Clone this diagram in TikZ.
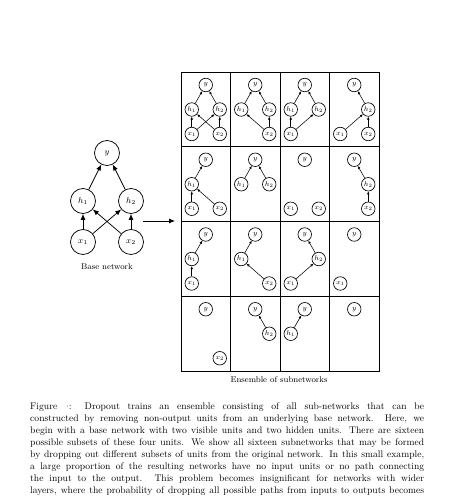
\RequirePackage{fix-cm}
\documentclass[tikz,border=0pt]{standalone}
\usetikzlibrary{arrows.meta}
\tikzset{
  bignode/.style={circle,draw,line width=0.75pt,minimum size=25pt,inner sep=0pt,font=\fontsize{8.5}{9}\selectfont},
  sn/.style={circle,draw,line width=0.65pt,minimum size=13.5pt,inner sep=0pt,font=\fontsize{7}{8}\selectfont},
  bigarr/.style={-{Latex[length=6pt,width=5pt]},line width=0.75pt},
  sarr/.style={-{Latex[length=3pt,width=2.6pt]},line width=0.55pt},
  gridline/.style={line width=0.9pt},
  lbl/.style={font=\fontsize{8.3}{9}\selectfont,inner sep=0pt}
}
\begin{document}
\begin{tikzpicture}[x=1pt,y=-1pt]
\clip (0,0) rectangle (474,498);
\fill[white] (0,0) rectangle (474,498);
% base network
\node[bignode] (by) at (107,153) {$y$};
\node[bignode] (bh1) at (83,201) {$h_1$};
\node[bignode] (bh2) at (131,201) {$h_2$};
\node[bignode] (bx1) at (83,242) {$x_1$};
\node[bignode] (bx2) at (131,242) {$x_2$};
\draw[bigarr] (bx1) -- (bh1);
\draw[bigarr] (bx2) -- (bh2);
\draw[bigarr] (bx1) -- (bh2);
\draw[bigarr] (bx2) -- (bh1);
\draw[bigarr] (bh1) -- (by);
\draw[bigarr] (bh2) -- (by);
\node[lbl] (blabel) at (107,267) {Base network};
\coordinate (as) at (143,221);
\coordinate (ae) at (175,221);
\draw[bigarr] (as) -- (ae);
% grid
\draw[gridline] (181,72) rectangle (379,371);
\foreach \xx in {230.5,280,329.5} \draw[gridline] (\xx,72) -- (\xx,371);
\foreach \yy in {146.75,221.5,296.25} \draw[gridline] (181,\yy) -- (379,\yy);
\node[lbl] (elabel) at (279,380) {Ensemble of subnetworks};
% row 1
\begin{scope}[shift={(205.75,72)}]
\node[sn] (a1y) at (0,13) {$y$};
\node[sn] (a1h1) at (-14,37.5) {$h_1$};
\node[sn] (a1h2) at (14,37.5) {$h_2$};
\node[sn] (a1x1) at (-14,62) {$x_1$};
\node[sn] (a1x2) at (14,62) {$x_2$};
\draw[sarr] (a1x1) -- (a1h1); \draw[sarr] (a1x1) -- (a1h2);
\draw[sarr] (a1x2) -- (a1h1); \draw[sarr] (a1x2) -- (a1h2);
\draw[sarr] (a1h1) -- (a1y); \draw[sarr] (a1h2) -- (a1y);
\end{scope}
\begin{scope}[shift={(255.25,72)}]
\node[sn] (a2y) at (0,13) {$y$};
\node[sn] (a2h1) at (-14,37.5) {$h_1$};
\node[sn] (a2h2) at (14,37.5) {$h_2$};
\node[sn] (a2x2) at (14,62) {$x_2$};
\draw[sarr] (a2x2) -- (a2h1); \draw[sarr] (a2x2) -- (a2h2);
\draw[sarr] (a2h1) -- (a2y); \draw[sarr] (a2h2) -- (a2y);
\end{scope}
\begin{scope}[shift={(304.75,72)}]
\node[sn] (a3y) at (0,13) {$y$};
\node[sn] (a3h1) at (-14,37.5) {$h_1$};
\node[sn] (a3h2) at (14,37.5) {$h_2$};
\node[sn] (a3x1) at (-14,62) {$x_1$};
\draw[sarr] (a3x1) -- (a3h1); \draw[sarr] (a3x1) -- (a3h2);
\draw[sarr] (a3h1) -- (a3y); \draw[sarr] (a3h2) -- (a3y);
\end{scope}
\begin{scope}[shift={(354.25,72)}]
\node[sn] (a4y) at (0,13) {$y$};
\node[sn] (a4h2) at (14,37.5) {$h_2$};
\node[sn] (a4x1) at (-14,62) {$x_1$};
\node[sn] (a4x2) at (14,62) {$x_2$};
\draw[sarr] (a4x1) -- (a4h2); \draw[sarr] (a4x2) -- (a4h2);
\draw[sarr] (a4h2) -- (a4y);
\end{scope}
% row 2
\begin{scope}[shift={(205.75,146.75)}]
\node[sn] (b1y) at (0,13) {$y$};
\node[sn] (b1h1) at (-14,37.5) {$h_1$};
\node[sn] (b1x1) at (-14,62) {$x_1$};
\node[sn] (b1x2) at (14,62) {$x_2$};
\draw[sarr] (b1x1) -- (b1h1); \draw[sarr] (b1x2) -- (b1h1);
\draw[sarr] (b1h1) -- (b1y);
\end{scope}
\begin{scope}[shift={(255.25,146.75)}]
\node[sn] (b2y) at (0,13) {$y$};
\node[sn] (b2h1) at (-14,37.5) {$h_1$};
\node[sn] (b2h2) at (14,37.5) {$h_2$};
\draw[sarr] (b2h1) -- (b2y); \draw[sarr] (b2h2) -- (b2y);
\end{scope}
\begin{scope}[shift={(304.75,146.75)}]
\node[sn] (b3y) at (0,13) {$y$};
\node[sn] (b3x1) at (-14,62) {$x_1$};
\node[sn] (b3x2) at (14,62) {$x_2$};
\end{scope}
\begin{scope}[shift={(354.25,146.75)}]
\node[sn] (b4y) at (0,13) {$y$};
\node[sn] (b4h2) at (14,37.5) {$h_2$};
\node[sn] (b4x2) at (14,62) {$x_2$};
\draw[sarr] (b4x2) -- (b4h2); \draw[sarr] (b4h2) -- (b4y);
\end{scope}
% row 3
\begin{scope}[shift={(205.75,221.5)}]
\node[sn] (c1y) at (0,13) {$y$};
\node[sn] (c1h1) at (-14,37.5) {$h_1$};
\node[sn] (c1x1) at (-14,62) {$x_1$};
\draw[sarr] (c1x1) -- (c1h1); \draw[sarr] (c1h1) -- (c1y);
\end{scope}
\begin{scope}[shift={(255.25,221.5)}]
\node[sn] (c2y) at (0,13) {$y$};
\node[sn] (c2h1) at (-14,37.5) {$h_1$};
\node[sn] (c2x2) at (14,62) {$x_2$};
\draw[sarr] (c2x2) -- (c2h1); \draw[sarr] (c2h1) -- (c2y);
\end{scope}
\begin{scope}[shift={(304.75,221.5)}]
\node[sn] (c3y) at (0,13) {$y$};
\node[sn] (c3h2) at (14,37.5) {$h_2$};
\node[sn] (c3x1) at (-14,62) {$x_1$};
\draw[sarr] (c3x1) -- (c3h2); \draw[sarr] (c3h2) -- (c3y);
\end{scope}
\begin{scope}[shift={(354.25,221.5)}]
\node[sn] (c4y) at (0,13) {$y$};
\node[sn] (c4x1) at (-14,62) {$x_1$};
\end{scope}
% row 4
\begin{scope}[shift={(205.75,296.25)}]
\node[sn] (d1y) at (0,13) {$y$};
\node[sn] (d1x2) at (14,62) {$x_2$};
\end{scope}
\begin{scope}[shift={(255.25,296.25)}]
\node[sn] (d2y) at (0,13) {$y$};
\node[sn] (d2h2) at (14,37.5) {$h_2$};
\draw[sarr] (d2h2) -- (d2y);
\end{scope}
\begin{scope}[shift={(304.75,296.25)}]
\node[sn] (d3y) at (0,13) {$y$};
\node[sn] (d3h1) at (-14,37.5) {$h_1$};
\draw[sarr] (d3h1) -- (d3y);
\end{scope}
\begin{scope}[shift={(354.25,296.25)}]
\node[sn] (d4y) at (0,13) {$y$};
\end{scope}
% caption
\node[anchor=north west,inner sep=0pt,text width=394pt,align=justify,font=\fontsize{9.6}{12}\selectfont] (cap) at (30,402.3)
{Figure\hspace{9pt}{\tiny\textquoteright}\kern0.5pt: Dropout trains an ensemble consisting of all sub-networks that can be\linebreak
constructed by removing non-output units from an underlying base network. Here, we\linebreak
begin with a base network with two visible units and two hidden units. There are sixteen\linebreak
possible subsets of these four units. We show all sixteen subnetworks that may be formed\linebreak
by dropping out different subsets of units from the original network. In this small example,\linebreak
a large proportion of the resulting networks have no input units or no path connecting\linebreak
the input to the output. This problem becomes insignificant for networks with wider\linebreak
layers, where the probability of dropping all possible paths from inputs to outputs becomes\linebreak};
\end{tikzpicture}
\end{document}
